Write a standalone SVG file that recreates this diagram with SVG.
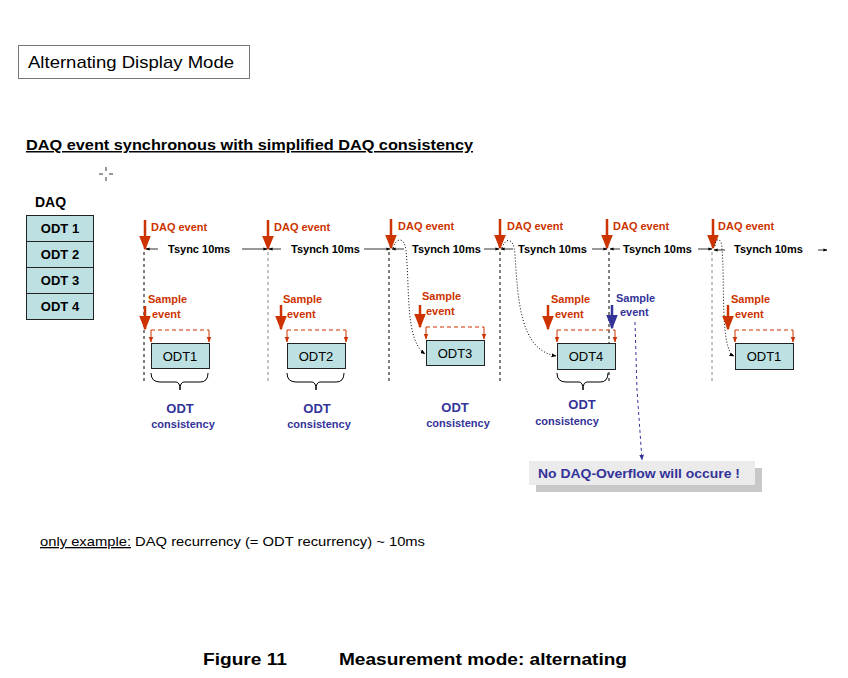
<svg xmlns="http://www.w3.org/2000/svg" width="848" height="678" viewBox="0 0 848 678">
<defs>
<marker id="ra" viewBox="0 0 10 10" refX="9" refY="5" markerWidth="6" markerHeight="6" orient="auto"><path d="M0,1 L10,5 L0,9z" fill="#cc3300"/></marker>
<marker id="ba" viewBox="0 0 10 10" refX="9" refY="5" markerWidth="6" markerHeight="6" orient="auto"><path d="M0,1 L10,5 L0,9z" fill="#333399"/></marker>
<marker id="ka" viewBox="0 0 10 10" refX="9" refY="5" markerWidth="5" markerHeight="5" orient="auto"><path d="M0,1 L10,5 L0,9z" fill="#000"/></marker>
</defs>
<style>
text{font-family:"Liberation Sans",Arial,sans-serif}
.red{fill:#cc3300;font-size:11px;font-weight:bold}
.blu{fill:#333399;font-weight:bold}
.ts{font-size:11px;font-weight:bold}
.odt{fill:#bde0e2;stroke:#222;stroke-width:1}
.ev{stroke:#cc3300;stroke-width:2.5;marker-end:url(#ra)}
.br{stroke:#cc3300;stroke-width:1;stroke-dasharray:4,3;fill:none}
.brd{stroke:#cc3300;stroke-width:1;marker-end:url(#ra)}
.vd{stroke:#000;stroke-width:1;stroke-dasharray:3,3}
.vg{stroke:#888;stroke-width:1;stroke-dasharray:3,3}
.tl{stroke:#000;stroke-width:0.8;marker-end:url(#ka)}
.cur{fill:none;stroke:#000;stroke-width:1;stroke-dasharray:1,2;marker-end:url(#ka)}
.brace{fill:none;stroke:#000;stroke-width:1}
</style>
<rect x="18.5" y="45.5" width="231" height="33" fill="#fff" stroke="#777"/>
<text x="28" y="68" font-size="17" textLength="206" lengthAdjust="spacingAndGlyphs">Alternating Display Mode</text>
<text x="26" y="150" font-size="15" font-weight="bold" text-decoration="underline" textLength="447" lengthAdjust="spacingAndGlyphs">DAQ event synchronous with simplified DAQ consistency</text>
<g stroke="#000" stroke-width="0.8"><line x1="99" y1="174" x2="103" y2="174"/><line x1="109" y1="174" x2="113" y2="174"/><line x1="106" y1="167" x2="106" y2="171"/><line x1="106" y1="177" x2="106" y2="181"/></g>
<g id="daq">
<text x="35" y="207" font-size="14" font-weight="bold">DAQ</text>
<rect class="odt" x="26.5" y="215.5" width="67" height="26"/><text x="60" y="233" font-size="13" font-weight="bold" text-anchor="middle">ODT 1</text>
<rect class="odt" x="26.5" y="241.5" width="67" height="26"/><text x="60" y="259" font-size="13" font-weight="bold" text-anchor="middle">ODT 2</text>
<rect class="odt" x="26.5" y="267.5" width="67" height="26"/><text x="60" y="285" font-size="13" font-weight="bold" text-anchor="middle">ODT 3</text>
<rect class="odt" x="26.5" y="293.5" width="67" height="26"/><text x="60" y="311" font-size="13" font-weight="bold" text-anchor="middle">ODT 4</text>
</g>
<g id="connectors">
<line class="ev" x1="145" y1="220" x2="145" y2="249"/>
<line class="ev" x1="268" y1="220" x2="268" y2="249"/>
<line class="ev" x1="391" y1="219" x2="391" y2="248"/>
<line class="ev" x1="500" y1="219" x2="500" y2="248"/>
<line class="ev" x1="607" y1="219" x2="607" y2="248"/>
<line class="ev" x1="713" y1="219" x2="713" y2="248"/>
<line class="vd" x1="144" y1="252" x2="144" y2="382"/>
<line class="vg" x1="268" y1="252" x2="268" y2="382"/>
<line class="vd" x1="389" y1="252" x2="389" y2="382"/>
<line class="vd" x1="500" y1="252" x2="500" y2="382"/>
<line class="vd" x1="609" y1="252" x2="609" y2="382"/>
<line class="vg" x1="712" y1="252" x2="712" y2="382"/>
<line class="tl" x1="158" y1="249" x2="146" y2="249"/><line class="tl" x1="242" y1="249" x2="267" y2="249"/>
<line class="tl" x1="281" y1="249" x2="269" y2="249"/><line class="tl" x1="364" y1="249" x2="390" y2="249"/>
<line class="tl" x1="404" y1="249" x2="392" y2="249"/><line class="tl" x1="484" y1="249" x2="499" y2="249"/>
<line class="tl" x1="513" y1="249" x2="501" y2="249"/><line class="tl" x1="592" y1="249" x2="607" y2="249"/>
<line class="tl" x1="620" y1="249" x2="610" y2="249"/><line class="tl" x1="698" y1="249" x2="712" y2="249"/>
<line class="tl" x1="725" y1="250" x2="714" y2="250"/><line class="tl" x1="818" y1="250" x2="827" y2="250"/>
<path class="cur" d="M393,248 C396,238 404,236 406,250 C410,290 405,340 425,354"/>
<path class="cur" d="M502,248 C505,238 514,236 515,255 C518,300 520,350 556,356"/>
<path class="cur" d="M715,246 C715,238 722,236 722,250 C725,280 720,350 734,356"/>
<line class="ev" x1="145" y1="306" x2="145" y2="329"/>
<line class="ev" x1="281" y1="305" x2="281" y2="329"/>
<line class="ev" x1="420" y1="305" x2="420" y2="327"/>
<line class="ev" x1="548" y1="305" x2="548" y2="329"/>
<line class="ev" x1="728" y1="305" x2="728" y2="329"/>
<line x1="612" y1="305" x2="612" y2="328" stroke="#333399" stroke-width="2.5" marker-end="url(#ba)"/>
<path d="M635,322 L637,390 L642,460" fill="none" stroke="#333399" stroke-width="1" stroke-dasharray="3,3" marker-end="url(#ba)"/>
<path class="br" d="M151,330 H209"/><line class="brd" x1="151" y1="330" x2="151" y2="342"/><line class="brd" x1="209" y1="330" x2="209" y2="342"/>
<path class="br" d="M287,330 H346"/><line class="brd" x1="287" y1="330" x2="287" y2="342"/><line class="brd" x1="346" y1="330" x2="346" y2="342"/>
<path class="br" d="M426,327 H484"/><line class="brd" x1="426" y1="327" x2="426" y2="339"/><line class="brd" x1="484" y1="327" x2="484" y2="339"/>
<path class="br" d="M557,330 H615"/><line class="brd" x1="557" y1="330" x2="557" y2="342"/><line class="brd" x1="615" y1="330" x2="615" y2="342"/>
<path class="br" d="M735,330 H793"/><line class="brd" x1="735" y1="330" x2="735" y2="342"/><line class="brd" x1="793" y1="330" x2="793" y2="342"/>
<path class="brace" d="M151,373 Q151,382 160,382 H176 Q180,382 180,390 Q180,382 184,382 H200 Q208,382 208,373"/>
<path class="brace" d="M287,373 Q287,382 296,382 H312 Q316,382 316,390 Q316,382 320,382 H336 Q344,382 344,373"/>
<path class="brace" d="M557,373 Q557,382 566,382 H579 Q583,382 583,390 Q583,382 587,382 H600 Q608,382 608,373"/>
</g>
<g class="labels">
<text class="red" x="151" y="231">DAQ event</text>
<text class="red" x="274" y="231">DAQ event</text>
<text class="red" x="398" y="230">DAQ event</text>
<text class="red" x="507" y="230">DAQ event</text>
<text class="red" x="613" y="230">DAQ event</text>
<text class="red" x="718" y="230">DAQ event</text>
<text class="ts" x="168" y="253">Tsync 10ms</text>
<text class="ts" x="291" y="253">Tsynch 10ms</text>
<text class="ts" x="412" y="253">Tsynch 10ms</text>
<text class="ts" x="518" y="253">Tsynch 10ms</text>
<text class="ts" x="623" y="253">Tsynch 10ms</text>
<text class="ts" x="734" y="253">Tsynch 10ms</text>
<text class="red" x="148" y="303">Sample</text><text class="red" x="152" y="318">event</text>
<text class="red" x="283" y="303">Sample</text><text class="red" x="287" y="318">event</text>
<text class="red" x="422" y="300">Sample</text><text class="red" x="426" y="315">event</text>
<text class="red" x="551" y="303">Sample</text><text class="red" x="555" y="318">event</text>
<text class="red" x="731" y="303">Sample</text><text class="red" x="735" y="318">event</text>
<text class="blu" x="616" y="302" font-size="11">Sample</text><text class="blu" x="620" y="316" font-size="11">event</text>
</g>
<g id="odt1a"><rect class="odt" x="151.5" y="343.5" width="58" height="25"/><text x="180" y="361" font-size="13" text-anchor="middle">ODT1</text></g>
<g id="odt2"><rect class="odt" x="287.5" y="343.5" width="58" height="25"/><text x="316" y="361" font-size="13" text-anchor="middle">ODT2</text></g>
<g id="odt3"><rect class="odt" x="426.5" y="340.5" width="58" height="25"/><text x="455" y="358" font-size="13" text-anchor="middle">ODT3</text></g>
<g id="odt4"><rect class="odt" x="557.5" y="343.5" width="58" height="26"/><text x="586" y="361" font-size="13" text-anchor="middle">ODT4</text></g>
<g id="odt1b"><rect class="odt" x="735.5" y="343.5" width="58" height="26"/><text x="764" y="361" font-size="13" text-anchor="middle">ODT1</text></g>
<g id="cons">
<text class="blu" x="180" y="413" font-size="13" text-anchor="middle">ODT</text><text class="blu" x="183" y="428" font-size="11" text-anchor="middle">consistency</text>
<text class="blu" x="317" y="413" font-size="13" text-anchor="middle">ODT</text><text class="blu" x="319" y="428" font-size="11" text-anchor="middle">consistency</text>
<text class="blu" x="455" y="412" font-size="13" text-anchor="middle">ODT</text><text class="blu" x="458" y="427" font-size="11" text-anchor="middle">consistency</text>
<text class="blu" x="582" y="409" font-size="13" text-anchor="middle">ODT</text><text class="blu" x="567" y="425" font-size="11" text-anchor="middle">consistency</text>
</g>
<g id="overflow">
<rect x="536" y="468" width="226" height="24" fill="#c8c8c8"/>
<rect x="529" y="461" width="226" height="24" fill="#ebebeb"/>
<text class="blu" x="538" y="478" font-size="13" textLength="202" lengthAdjust="spacingAndGlyphs">No DAQ-Overflow will occure !</text>
</g>
<text x="40" y="546" font-size="13" textLength="385" lengthAdjust="spacingAndGlyphs"><tspan text-decoration="underline">only example:</tspan> DAQ recurrency (= ODT recurrency) ~ 10ms</text>
<text x="203" y="665" font-size="17" font-weight="bold" textLength="84" lengthAdjust="spacingAndGlyphs">Figure 11</text>
<text x="339" y="665" font-size="17" font-weight="bold" textLength="288" lengthAdjust="spacingAndGlyphs">Measurement mode: alternating</text>
</svg>
